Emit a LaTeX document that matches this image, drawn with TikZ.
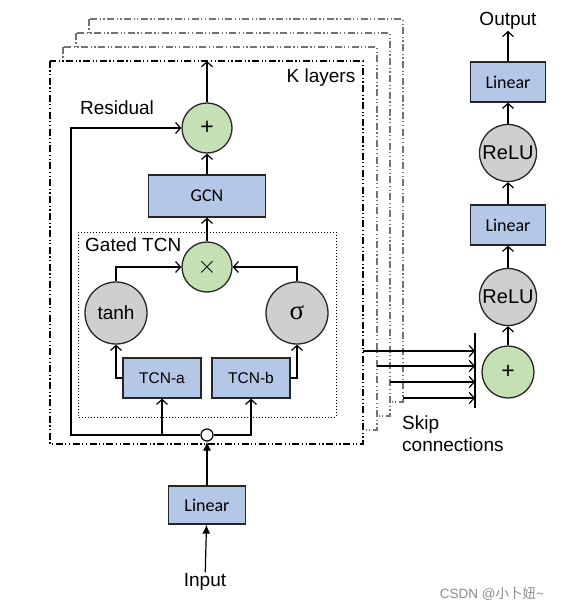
\documentclass[tikz,border=0pt]{standalone}
\usepackage{fontspec}
\setmainfont{Liberation Sans}
\newfontfamily\calib{Carlito}
\newfontfamily\serifsig{Liberation Serif}
\newfontfamily\cjk{Noto Sans CJK SC}
\usetikzlibrary{arrows.meta}
\definecolor{boxblue}{HTML}{B4C7E7}
\definecolor{cgreen}{HTML}{C5E0B4}
\definecolor{cgray}{HTML}{D0CECE}
\definecolor{edge}{HTML}{262626}
\begin{document}
\begin{tikzpicture}[x=1pt,y=-1pt,
  box/.style={draw=edge, line width=1.3pt, fill=boxblue, inner sep=0pt},
  gcirc/.style={circle, draw=edge, line width=1.3pt, fill=cgreen, inner sep=0pt},
  acirc/.style={circle, draw=edge, line width=1.3pt, fill=cgray, inner sep=0pt},
  lbl/.style={font=\fontsize{19}{22}\selectfont, inner sep=1pt},
  optxt/.style={font=\fontsize{23}{24}\selectfont},
  oarr/.style={-{Straight Barb[length=5pt,width=11pt,line width=1.2pt]}, line width=1.2pt, draw=black},
  farr/.style={-{Latex[length=9pt,width=8pt]}, line width=1.2pt, draw=black},
  frontframe/.style={draw=black, line width=1.1pt, fill=white, dash pattern=on 7pt off 2.5pt on 1.2pt off 2.5pt on 1.2pt off 2.5pt},
  backframe/.style={draw=black!55, line width=1.1pt, fill=white, dash pattern=on 7pt off 2.5pt on 1.2pt off 2.5pt on 1.2pt off 2.5pt}
]
\useasboundingbox (0,0) rectangle (565,612);

% stacked layer frames
\draw[backframe] (89,19) rectangle (403,402);
\draw[backframe] (76,33) rectangle (390,416);
\draw[backframe] (63,47) rectangle (377,430);
\draw[frontframe] (50,61) rectangle (363,444);

% gated TCN box
\draw[dotted, line width=1pt] (78,232) rectangle (336,417);
\node[lbl, anchor=west] (gtlbl) at (84,245) {Gated TCN};
\node[lbl] (klbl) at (321,78) {K layers};
\node[lbl] (reslbl) at (117,108) {Residual};

% nodes in the layer
\node[gcirc, minimum size=50pt, optxt] (plusL) at (207,128) {+};
\node[box, minimum width=117pt, minimum height=42pt] (gcn) at (207,196) {\calib\fontsize{18}{18}\selectfont GCN};
\node[gcirc, minimum size=50pt, optxt] (times) at (207,267) {$\times$};
\node[acirc, minimum size=62pt] (tanh) at (116,313) {\fontsize{19}{22}\selectfont tanh};
\node[acirc, minimum size=62pt] (sig) at (297,313) {\serifsig\fontsize{27}{28}\selectfont σ};
\node[box, minimum width=78pt, minimum height=40pt] (tcna) at (162,378) {\fontsize{15.5}{18}\selectfont TCN-a};
\node[box, minimum width=78pt, minimum height=40pt] (tcnb) at (251,378) {\fontsize{15.5}{18}\selectfont TCN-b};
\node[circle, draw=black, line width=1.2pt, fill=white, minimum size=12pt, inner sep=0pt] (junc) at (207,435) {};
\node[box, minimum width=77pt, minimum height=38pt] (linIn) at (207,505) {\calib\fontsize{18}{20}\selectfont Linear};
\node[lbl] (inp) at (205,582) {Input};

\coordinate (ktop) at (207,61);
\coordinate (resc) at (71,435);

% connectors in the layer
\draw[farr] (inp) -- (linIn);
\draw[farr] (linIn) -- (junc);
\draw[oarr] (junc.west) -- (resc) |- (plusL.west);
\draw[oarr] (junc.east) -| (tcnb.south);
\draw[oarr] (tcna.south |- junc.center) -- (tcna.south);
\draw[oarr] (tcna.west) -| (tanh.south);
\draw[oarr] (tcnb.east) -| (sig.south);
\draw[oarr] (tanh.north) |- (times.west);
\draw[oarr] (sig.north) |- (times.east);
\draw[oarr] (times) -- (gcn);
\draw[oarr] (gcn) -- (plusL);
\draw[oarr] (plusL) -- (ktop);

% output head
\node[gcirc, minimum size=52pt, optxt] (plusR) at (508,372) {+};
\node[acirc, minimum size=57pt] (relu1) at (508,297) {\fontsize{20}{22}\selectfont ReLU};
\node[box, minimum width=75pt, minimum height=40pt] (lin1) at (508,225) {\calib\fontsize{18}{20}\selectfont Linear};
\node[acirc, minimum size=57pt] (relu2) at (508,153) {\fontsize{20}{22}\selectfont ReLU};
\node[box, minimum width=75pt, minimum height=40pt] (lin2) at (508,82) {\calib\fontsize{18}{20}\selectfont Linear};
\node[lbl] (outp) at (508,21) {Output};

\draw[oarr] (plusR) -- (relu1);
\draw[oarr] (relu1) -- (lin1);
\draw[oarr] (lin1) -- (relu2);
\draw[oarr] (relu2) -- (lin2);
\draw[oarr] (lin2) -- (outp);

% skip connections
\coordinate (barT) at (475,333);
\coordinate (barB) at (475,408);
\draw[line width=1.2pt] (barT) -- (barB);
\coordinate (s1) at (363,351);
\coordinate (s2) at (377,366);
\coordinate (s3) at (390,382);
\coordinate (s4) at (403,398);
\draw[oarr] (s1) -- (s1 -| barT);
\draw[oarr] (s2) -- (s2 -| barT);
\draw[oarr] (s3) -- (s3 -| barT);
\draw[oarr] (s4) -- (s4 -| barT);
\node[lbl, anchor=north west, align=left] (skiplbl) at (401,415) {Skip\\connections};

% watermark
\node[text=black!45, font=\fontsize{13.5}{15}\selectfont, inner sep=0pt] (wm) at (492,594) {CSDN @{\cjk 小卜妞}\textasciitilde};
\end{tikzpicture}
\end{document}
